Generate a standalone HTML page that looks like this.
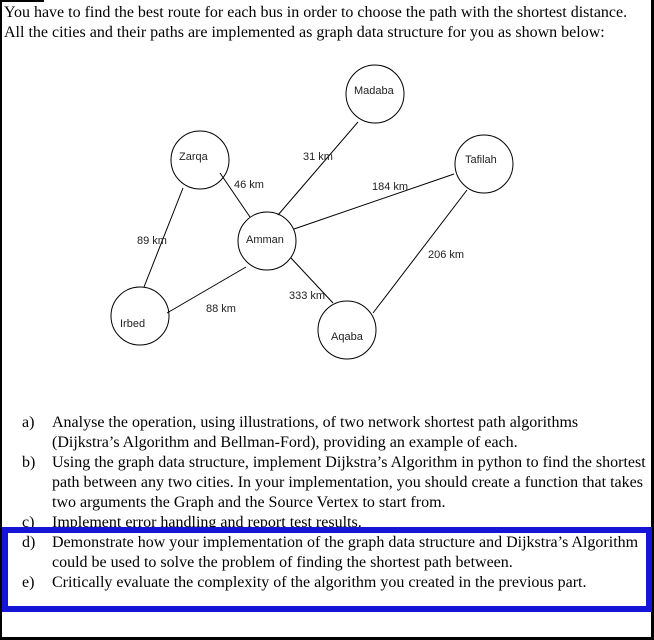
<!DOCTYPE html>
<html><head><style>
body{margin:0;width:654px;height:640px;background:#fff;position:relative;overflow:hidden;font-family:"Liberation Serif",serif;}
.t{position:absolute;font-size:16px;white-space:nowrap;color:#000;}
svg{position:absolute;left:0;top:0}
</style></head><body>
<svg width="654" height="640">
<rect x="0" y="0" width="2" height="640" fill="#000"/>
<rect x="0" y="0" width="44" height="2" fill="#000"/>
<rect x="651" y="0" width="3" height="640" fill="#000"/>
<rect x="0" y="637" width="654" height="3" fill="#000"/>
<g stroke="#000" stroke-width="1" fill="none">
<line x1="358" y1="122" x2="278" y2="215"/>
<line x1="220" y1="173" x2="250" y2="217"/>
<line x1="183" y1="188" x2="144" y2="287"/>
<line x1="294" y1="229" x2="454" y2="174"/>
<line x1="467" y1="190" x2="373" y2="313"/>
<line x1="291" y1="258" x2="333" y2="303"/>
<line x1="246" y1="267" x2="167" y2="313"/>
<circle cx="375" cy="94" r="29"/>
<circle cx="200" cy="160" r="29"/>
<circle cx="484" cy="164" r="29"/>
<circle cx="267" cy="241" r="29"/>
<circle cx="140" cy="316" r="29"/>
<circle cx="347" cy="330" r="29"/>
</g>
<g font-family="Liberation Sans, sans-serif" font-size="11" fill="#222">
<text x="354" y="94">Madaba</text>
<text x="179" y="160">Zarqa</text>
<text x="465" y="163">Tafilah</text>
<text x="246" y="243">Amman</text>
<text x="120" y="327">Irbed</text>
<text x="331" y="340">Aqaba</text>
<text x="303" y="160">31 km</text>
<text x="234" y="188">46 km</text>
<text x="372" y="190">184 km</text>
<text x="137" y="244">89 km</text>
<text x="428" y="258">206 km</text>
<text x="289" y="299">333 km</text>
<text x="206" y="312">88 km</text>
</g>
</svg>
<div class="t" style="left:4px;top:4px">You have to find the best route for each bus in order to choose the path with the shortest distance.</div>
<div class="t" style="left:4px;top:24px">All the cities and their paths are implemented as graph data structure for you as shown below:</div>
<div class="t" style="left:22px;top:414px">a)</div><div class="t" style="left:52px;top:414px">Analyse the operation, using illustrations, of two network shortest path algorithms</div>
<div class="t" style="left:52px;top:434px">(Dijkstra’s Algorithm and Bellman-Ford), providing an example of each.</div>
<div class="t" style="left:22px;top:454px">b)</div><div class="t" style="left:52px;top:454px">Using the graph data structure, implement Dijkstra’s Algorithm in python to find the shortest</div>
<div class="t" style="left:52px;top:474px">path between any two cities. In your implementation, you should create a function that takes</div>
<div class="t" style="left:52px;top:494px">two arguments the Graph and the Source Vertex to start from.</div>
<div class="t" style="left:22px;top:514px">c)</div><div class="t" style="left:52px;top:514px">Implement error handling and report test results.</div>
<svg width="654" height="640" style="pointer-events:none"><rect x="5" y="530" width="644" height="79" fill="none" stroke="#1515d8" stroke-width="6"/></svg>
<div class="t" style="left:22px;top:534px">d)</div><div class="t" style="left:52px;top:534px">Demonstrate how your implementation of the graph data structure and Dijkstra’s Algorithm</div>
<div class="t" style="left:52px;top:554px">could be used to solve the problem of finding the shortest path between.</div>
<div class="t" style="left:22px;top:574px">e)</div><div class="t" style="left:52px;top:574px">Critically evaluate the complexity of the algorithm you created in the previous part.</div>
</body></html>
